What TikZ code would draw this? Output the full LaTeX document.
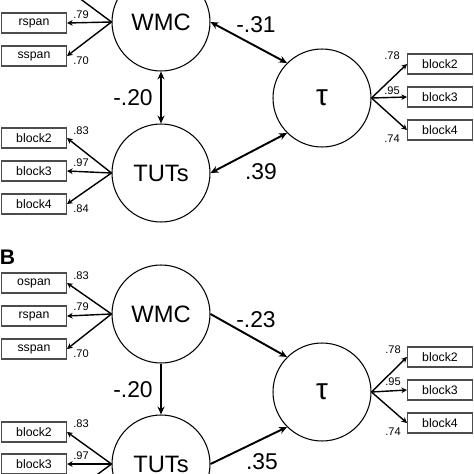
\documentclass[tikz,border=0pt]{standalone}
\usepackage{fontspec}
\setmainfont{Liberation Sans}
\usetikzlibrary{arrows.meta}

\tikzset{
	latent/.style={circle, draw, line width=0.6pt, minimum size=1.96cm, inner sep=0pt, font=\fontsize{13.5}{15}\selectfont},
	manifest/.style={rectangle, draw=black!70, line width=0.6pt, fill=white, minimum width=1.3cm, minimum height=0.4cm, inner sep=0pt, font=\fontsize{7}{8}\selectfont},
	loading/.style={line width=0.8pt, -{Stealth[length=3.2pt,width=3.2pt]}},
	covpath/.style={line width=1.1pt, {Stealth[length=4.5pt,width=4pt]}-{Stealth[length=4.5pt,width=4pt]}},
	regpath/.style={line width=1.1pt, -{Stealth[length=4.5pt,width=4pt]}},
	coef/.style={font=\fontsize{6.3}{7}\selectfont, inner sep=0.5pt},
	beta/.style={font=\fontsize{13}{15}\selectfont, inner sep=0.5pt},
	taufont/.style={font=\fontsize{17}{18}\selectfont}
}

\begin{document}
\begin{tikzpicture}[x=0.02cm, y=-0.02cm]
	\useasboundingbox (0,0) rectangle (474,474);
	\clip (0,0) rectangle (474,474);

	\node[latent] (wmcA) at (161,22) {WMC};
	\node[latent] (tutA) at (161,173) {TUTs};
	\node[latent, taufont] (tauA) at (322,98) {τ};
	\node[manifest] (ospanA) at (34,-11) {};
	\node[manifest] (rspanA) at (34,23) {rspan};
	\node[manifest] (sspanA) at (34,56) {sspan};
	\node[manifest] (btwoA) at (34,138) {block2};
	\node[manifest] (bthreeA) at (34,171) {block3};
	\node[manifest] (bfourA) at (34,204) {block4};
	\node[manifest] (rtwoA) at (440,64) {block2};
	\node[manifest] (rthreeA) at (440,97) {block3};
	\node[manifest] (rfourA) at (440,130) {block4};
	\draw[loading] (wmcA.west) -- (ospanA.east);
	\draw[loading] (wmcA.west) -- (rspanA.east);
	\draw[loading] (wmcA.west) -- (sspanA.east);
	\draw[loading] (tutA.west) -- (btwoA.east);
	\draw[loading] (tutA.west) -- (bthreeA.east);
	\draw[loading] (tutA.west) -- (bfourA.east);
	\draw[loading] (tauA.east) -- (rtwoA.west);
	\draw[loading] (tauA.east) -- (rthreeA.west);
	\draw[loading] (tauA.east) -- (rfourA.west);
	\draw[covpath] (wmcA.east) -- (tauA.135);
	\draw[covpath] (tutA.east) -- (tauA.225);
	\draw[covpath] (wmcA.south) -- (tutA.north);
	\node[coef] (lrspanA) at (81,15) {.79};
	\node[coef] (lsspanA) at (81,61) {.70};
	\node[coef] (lbtwoA) at (81,131) {.83};
	\node[coef] (lbthreeA) at (81,163) {.97};
	\node[coef] (lbfourA) at (81,209) {.84};
	\node[coef] (lrtwoA) at (392,56) {.78};
	\node[coef] (lrthreeA) at (392,91) {.95};
	\node[coef] (lrfourA) at (392,139) {.74};
	\node[beta] (lwtA) at (256,25) {-.31};
	\node[beta] (lttA) at (261,172) {.39};
	\node[beta] (lwuA) at (133,98) {-.20};

	\node[font=\bfseries\fontsize{12}{14}\selectfont, inner sep=0pt] (panelB) at (7.5,257) {B};
	\node[latent] (wmcB) at (161,314) {WMC};
	\node[latent] (tutB) at (161,464) {TUTs};
	\node[latent, taufont] (tauB) at (322,392) {τ};
	\node[manifest] (ospanB) at (34,283) {ospan};
	\node[manifest] (rspanB) at (34,316) {rspan};
	\node[manifest] (sspanB) at (34,349) {sspan};
	\node[manifest] (btwoB) at (34,432) {block2};
	\node[manifest] (bthreeB) at (34,464) {block3};
	\node[manifest] (bfourB) at (34,497) {};
	\node[manifest] (rtwoB) at (440,357) {block2};
	\node[manifest] (rthreeB) at (440,390) {block3};
	\node[manifest] (rfourB) at (440,423) {block4};
	\draw[loading] (wmcB.west) -- (ospanB.east);
	\draw[loading] (wmcB.west) -- (rspanB.east);
	\draw[loading] (wmcB.west) -- (sspanB.east);
	\draw[loading] (tutB.west) -- (btwoB.east);
	\draw[loading] (tutB.west) -- (bthreeB.east);
	\draw[loading] (tutB.west) -- (bfourB.east);
	\draw[loading] (tauB.east) -- (rtwoB.west);
	\draw[loading] (tauB.east) -- (rthreeB.west);
	\draw[loading] (tauB.east) -- (rfourB.west);
	\draw[regpath] (wmcB.east) -- (tauB.135);
	\draw[regpath] (tutB.east) -- (tauB.225);
	\draw[regpath] (wmcB.south) -- (tutB.north);
	\node[coef] (lospanB) at (81,276) {.83};
	\node[coef] (lrspanB) at (81,307) {.79};
	\node[coef] (lsspanB) at (81,354) {.70};
	\node[coef] (lbtwoB) at (81,424) {.83};
	\node[coef] (lbthreeB) at (81,456) {.97};
	\node[coef] (lrtwoB) at (393,350) {.78};
	\node[coef] (lrthreeB) at (393,382) {.95};
	\node[coef] (lrfourB) at (393,432) {.74};
	\node[beta] (lwtB) at (256,320) {-.23};
	\node[beta] (lttB) at (262,462) {.35};
	\node[beta] (lwuB) at (133,390) {-.20};
\end{tikzpicture}
\end{document}
